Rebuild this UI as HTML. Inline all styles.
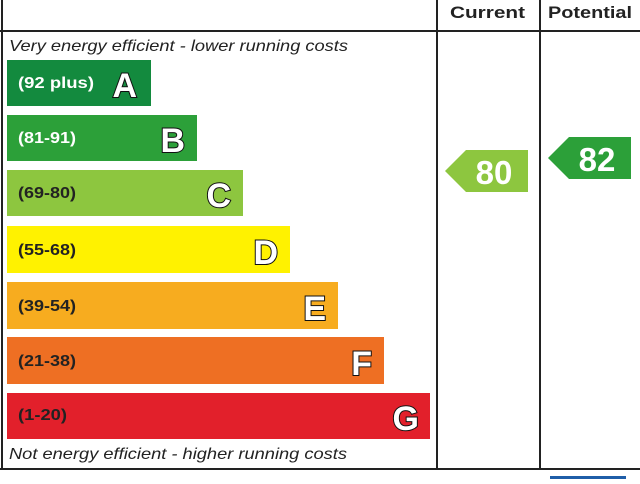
<!DOCTYPE html><html><head><style>body{margin:0;background:#fff}</style></head><body>
<svg width="640" height="479" xmlns="http://www.w3.org/2000/svg" font-family="Liberation Sans, sans-serif">
<rect width="640" height="479" fill="#fff"/>
<g stroke="#222" stroke-width="2" fill="none">
<line x1="2" y1="0" x2="2" y2="469"/>
<line x1="437" y1="0" x2="437" y2="469"/>
<line x1="540" y1="0" x2="540" y2="469"/>
<line x1="0" y1="31" x2="640" y2="31"/>
<line x1="0" y1="469" x2="640" y2="469"/>
</g>
<rect x="550" y="476" width="76" height="3" fill="#1f5ea8"/>
<text x="450" y="18" font-size="17" font-weight="bold" fill="#222" textLength="75" lengthAdjust="spacingAndGlyphs">Current</text>
<text x="548" y="18" font-size="17" font-weight="bold" fill="#222" textLength="84" lengthAdjust="spacingAndGlyphs">Potential</text>
<text x="9" y="51" font-size="16" font-style="italic" fill="#222" textLength="339" lengthAdjust="spacingAndGlyphs">Very energy efficient - lower running costs</text>
<text x="9" y="459" font-size="16" font-style="italic" fill="#222" textLength="338" lengthAdjust="spacingAndGlyphs">Not energy efficient - higher running costs</text>
<g font-weight="bold">
<rect x="7" y="60" width="144" height="46" fill="#138a3e"/><text x="18" y="88" font-size="16" fill="#fff" textLength="76" lengthAdjust="spacingAndGlyphs">(92 plus)</text><text x="137" y="97" font-size="34" text-anchor="end" fill="#fff" stroke="#111" stroke-width="2" paint-order="stroke">A</text>
<rect x="7" y="115" width="190" height="46" fill="#2ca039"/><text x="18" y="143" font-size="16" fill="#fff" textLength="58" lengthAdjust="spacingAndGlyphs">(81-91)</text><text x="185" y="152" font-size="34" text-anchor="end" fill="#fff" stroke="#111" stroke-width="2" paint-order="stroke">B</text>
<rect x="7" y="170" width="236" height="46" fill="#8dc63f"/><text x="18" y="198" font-size="16" fill="#222" textLength="58" lengthAdjust="spacingAndGlyphs">(69-80)</text><text x="231" y="207" font-size="34" text-anchor="end" fill="#fff" stroke="#111" stroke-width="2" paint-order="stroke">C</text>
<rect x="7" y="226" width="283" height="47" fill="#fff200"/><text x="18" y="255" font-size="16" fill="#222" textLength="58" lengthAdjust="spacingAndGlyphs">(55-68)</text><text x="278" y="264" font-size="34" text-anchor="end" fill="#fff" stroke="#111" stroke-width="2" paint-order="stroke">D</text>
<rect x="7" y="282" width="331" height="47" fill="#f7ac1f"/><text x="18" y="311" font-size="16" fill="#222" textLength="58" lengthAdjust="spacingAndGlyphs">(39-54)</text><text x="326" y="320" font-size="34" text-anchor="end" fill="#fff" stroke="#111" stroke-width="2" paint-order="stroke">E</text>
<rect x="7" y="337" width="377" height="47" fill="#ee6f23"/><text x="18" y="366" font-size="16" fill="#222" textLength="58" lengthAdjust="spacingAndGlyphs">(21-38)</text><text x="372" y="375" font-size="34" text-anchor="end" fill="#fff" stroke="#111" stroke-width="2" paint-order="stroke">F</text>
<rect x="7" y="393" width="423" height="46" fill="#e2202b"/><text x="18" y="420" font-size="16" fill="#222" textLength="49" lengthAdjust="spacingAndGlyphs">(1-20)</text><text x="419" y="430" font-size="34" text-anchor="end" fill="#fff" stroke="#111" stroke-width="2" paint-order="stroke">G</text>
<polygon points="445,171 466,150 528,150 528,192 466,192" fill="#8dc63f"/>
<text x="494" y="184" font-size="33" text-anchor="middle" fill="#fff">80</text>
<polygon points="548,158 569,137 631,137 631,179 569,179" fill="#2ca039"/>
<text x="597" y="171" font-size="33" text-anchor="middle" fill="#fff">82</text>
</g>
</svg>
</body></html>
